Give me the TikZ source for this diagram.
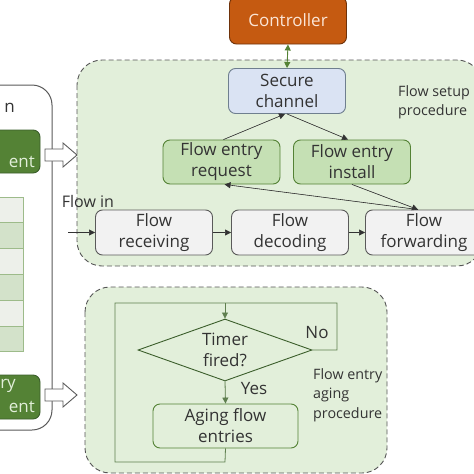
\documentclass[tikz,border=0pt]{standalone}
\usepackage{fontspec}
\setmainfont{Open Sans}
\usetikzlibrary{arrows.meta,shapes.geometric}
\definecolor{bggreen}{HTML}{E2EFDA}
\definecolor{midgreen}{HTML}{C5E0B4}
\definecolor{dkgreen}{HTML}{548235}
\definecolor{dkgreenb}{HTML}{3B5E2B}
\definecolor{ctrlfill}{HTML}{C55A11}
\definecolor{ctrlbord}{HTML}{6E320A}
\definecolor{ctrltext}{HTML}{FBE5D6}
\definecolor{bluefill}{HTML}{DAE3F3}
\definecolor{bluebord}{HTML}{6F7F8F}
\definecolor{grayfill}{HTML}{F2F2F2}
\definecolor{graybord}{HTML}{5A5A5A}
\definecolor{txt}{HTML}{333333}
\definecolor{rowlight}{HTML}{EDF0EA}
\definecolor{rowdark}{HTML}{D3E2CA}
\definecolor{rowbord}{HTML}{9DBB8A}
\definecolor{loopcol}{HTML}{5F7F4F}
\definecolor{dashcol}{HTML}{555555}
\begin{document}
\begin{tikzpicture}[x=1pt,y=-1pt,
  boxtext/.style={font=\fontsize{17}{21}\selectfont, text=txt, align=center},
  box/.style={boxtext, rounded corners=7pt, line width=0.9pt, minimum width=117pt, minimum height=45pt, inner sep=0pt},
  ctrlbox/.style={box, fill=ctrlfill, draw=ctrlbord, text=ctrltext},
  bluebox/.style={box, fill=bluefill, draw=bluebord},
  greenbox/.style={box, fill=midgreen, draw=dkgreen},
  graybox/.style={box, fill=grayfill, draw=graybord},
  agebox/.style={box, fill=bggreen, draw=dkgreen, minimum width=145pt, minimum height=44pt},
  region/.style={fill=bggreen, draw=dashcol, dash pattern=on 5pt off 3pt, line width=0.9pt, rounded corners=25pt},
  label/.style={font=\fontsize{14.3}{19.5}\selectfont, text=txt, align=left, inner sep=0pt},
  arr/.style={-{Triangle[width=6pt,length=6pt]}, line width=0.6pt, draw=txt, fill=txt},
  looparr/.style={-{Triangle[width=6pt,length=6pt]}, line width=0.8pt, draw=loopcol, fill=dkgreenb},
  loopline/.style={line width=0.8pt, draw=loopcol},
  hollow/.style={fill=white, draw=graybord, line width=0.9pt},
  darkbox/.style={fill=dkgreen, draw=dkgreenb, line width=0.9pt, rounded corners=7pt},
  darktext/.style={font=\fontsize{17}{21}\selectfont, text=bggreen, inner sep=0pt}
]
\useasboundingbox (0,0) rectangle (474,474);
\clip (0,0) rectangle (474,474);

% regions
\draw[region] (77,60) rectangle (482,266);
\draw[region] (85,287) rectangle (387,473);

% left panel
\draw[fill=white, draw=graybord, line width=1pt, rounded corners=20pt] (-40,85) rectangle (52,430);
\node[darktext, text=txt, anchor=east] (ptitle) at (15,108) {n};
\draw[darkbox] (-40,130) rectangle (40,173);
\node[darktext, anchor=east] (d1) at (35,162) {ent};
\draw[darkbox] (-40,375) rectangle (40,419);
\node[darktext, anchor=east] (d2a) at (16,386) {ry};
\node[darktext, anchor=east] (d2b) at (35,407) {ent};
% table
\foreach \i/\c in {0/rowlight,1/rowdark,2/rowlight,3/rowdark,4/rowlight,5/rowdark}{
  \draw[fill=\c, draw=rowbord, line width=0.8pt] (-5,197+\i*25.8) rectangle (23,197+\i*25.8+25.8);
}

% hollow arrows
\draw[hollow] (45,149) -- (63,149) -- (63,143) -- (77,155) -- (63,167) -- (63,161) -- (45,161) -- cycle;
\draw[hollow] (45,389) -- (63,389) -- (63,383) -- (77,395) -- (63,407) -- (63,401) -- (45,401) -- cycle;

% upper boxes
\node[ctrlbox, minimum height=47pt] (ctrl) at (288,20.5) {Controller};
\node[bluebox] (sec) at (287,91) {Secure\\channel};
\node[greenbox, minimum height=44pt] (req) at (221.5,162) {Flow entry\\request};
\node[greenbox, minimum height=44pt] (inst) at (352,162) {Flow entry\\install};
\node[graybox] (recv) at (154,232.5) {Flow\\receiving};
\node[graybox] (dec) at (290,232.5) {Flow\\decoding};
\node[graybox] (fwd) at (424,232.5) {Flow\\forwarding};

\node[label, anchor=north west] (setup) at (398,85) {Flow setup\\procedure};
\node[boxtext, font=\fontsize{16}{19}\selectfont] (flowin) at (88,201) {Flow in};
\coordinate (inpt) at (68,232.5);

\draw[{Triangle[width=6pt,length=6pt]}-{Triangle[width=6pt,length=6pt]}, line width=0.9pt, draw=dkgreen, fill=dkgreenb] (ctrl.south) -- (sec.north);
\draw[arr] ([xshift=2pt]req.north) -- ([xshift=-2pt]sec.south);
\draw[arr] (sec.south) -- ([xshift=-4pt]inst.north);
\draw[arr] (inst.south) -- ([xshift=-6pt]fwd.north);
\draw[arr] ([xshift=-6pt]fwd.north) -- ([xshift=3pt]req.south);
\draw[arr] (inpt) -- (recv.west);
\draw[arr] (recv.east) -- (dec.west);
\draw[arr] (dec.east) -- (fwd.west);

% lower flowchart
\node[diamond, draw=dkgreenb, line width=0.9pt, fill=bggreen, boxtext, aspect=2.8, minimum width=174pt, minimum height=62pt, inner sep=0pt] (dia) at (225,350) {Timer\\fired?};
\node[agebox] (age) at (225.5,426) {Aging flow\\entries};
\coordinate (bl) at (225,462);
\coordinate (blc) at (115,462);
\coordinate (tlc) at (115,303);
\coordinate (trc) at (337,303);
\coordinate (rc) at (337,350);
\coordinate (tm) at (225,303);
\draw[loopline] (age.south) -- (bl) -- (blc) -- (tlc) -- (trc) -- (rc) -- (dia.east);
\draw[looparr] (tm) -- (dia.north);
\draw[looparr] (dia.south) -- (age.north);
\node[boxtext] (no) at (317,333) {No};
\node[boxtext] (yes) at (254,389) {Yes};
\node[label, anchor=north west] (aging) at (313,368) {Flow entry\\aging\\procedure};
\end{tikzpicture}
\end{document}
